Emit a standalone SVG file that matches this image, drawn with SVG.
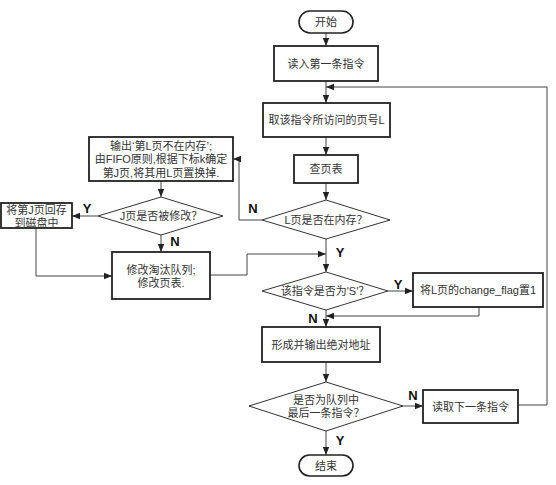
<svg xmlns="http://www.w3.org/2000/svg" width="556" height="485" viewBox="0 0 556 485">
<style>
.box{fill:#fff;stroke:#222;stroke-width:1.8}
.term{fill:#fff;stroke:#222;stroke-width:1.6}
.dia{fill:#fff;stroke:#333;stroke-width:1}
.t{font-family:"Liberation Sans","Noto Sans CJK SC",sans-serif;font-size:11px;fill:#333;text-anchor:middle;dominant-baseline:central}
.lbl{font-family:"Liberation Sans",Arial,sans-serif;font-size:13px;font-weight:bold;fill:#111;text-anchor:middle;dominant-baseline:central}
.c{fill:none;stroke:#444;stroke-width:1;marker-end:url(#ah)}
</style>
<defs>
<marker id="ah" markerUnits="userSpaceOnUse" markerWidth="8" markerHeight="8" viewBox="0 0 8 8" refX="8" refY="4" orient="auto">
<path d="M0,0.8 L8,4 L0,7.2 Z" fill="#222"/>
</marker>
</defs>
<rect width="556" height="485" fill="#fff"/>
<g id="connectors">
<path class="c" d="M326,33 V46"/>
<path class="c" d="M326,81 V103"/>
<path class="c" d="M326,137 V155"/>
<path class="c" d="M326,183 V200"/>
<path class="c" d="M262,220 H239 V159 H233"/>
<path class="c" d="M161,181 V197"/>
<path class="c" d="M98,216 H72"/>
<path class="c" d="M36,228 V276 H112"/>
<path class="c" d="M161,235 V252"/>
<path class="c" d="M210,275 H247 V254 H326"/>
<path class="c" d="M326,239 V272"/>
<path class="c" d="M388,291 H413"/>
<path class="c" d="M479,307 V316 H326"/>
<path class="c" d="M326,310 V327"/>
<path class="c" d="M326,362 V382"/>
<path class="c" d="M403,406 H423"/>
<path class="c" d="M518,405 H547 V87 H326"/>
<path class="c" d="M326,431 V455"/>
<text class="lbl" x="253" y="208">N</text>
<text class="lbl" x="87" y="208">Y</text>
<text class="lbl" x="175" y="241">N</text>
<text class="lbl" x="340" y="252">Y</text>
<text class="lbl" x="398" y="284">Y</text>
<text class="lbl" x="313" y="318">N</text>
<text class="lbl" x="413" y="395">N</text>
<text class="lbl" x="340" y="440">Y</text>
</g>
<g id="start">
<rect class="term" x="299" y="11" width="54" height="22" rx="11"/>
<text class="t" x="326" y="22">开始</text>
</g>
<g id="read-first">
<rect class="box" x="274" y="46" width="104" height="35"/>
<text class="t" x="326" y="63.5">读入第一条指令</text>
</g>
<g id="get-page">
<rect class="box" x="263" y="103" width="127" height="34"/>
<text class="t" x="326.5" y="120">取该指令所访问的页号L</text>
</g>
<g id="lookup">
<rect class="box" x="294" y="155" width="64" height="28"/>
<text class="t" x="326" y="169">查页表</text>
</g>
<g id="in-memory">
<polygon class="dia" points="326,200 390,220 326,239 262,220"/>
<text class="t" x="326" y="220">L页是否在内存？</text>
</g>
<g id="fifo">
<rect class="box" x="89" y="137" width="144" height="44"/>
<text class="t" x="161" y="145.5">输出‘第L页不在内存’;</text>
<text class="t" x="161" y="159">由FIFO原则,根据下标k确定</text>
<text class="t" x="161" y="172.5">第J页,将其用L页置换掉.</text>
</g>
<g id="modified">
<polygon class="dia" points="161,197 223,216 161,235 98,216"/>
<text class="t" x="161" y="216">J页是否被修改？</text>
</g>
<g id="write-back">
<rect class="box" x="1" y="203" width="71" height="25"/>
<text class="t" x="36.5" y="210">将第J页回存</text>
<text class="t" x="36.5" y="222.5">到磁盘中</text>
</g>
<g id="update">
<rect class="box" x="112" y="252" width="98" height="47"/>
<text class="t" x="161" y="270">修改淘汰队列;</text>
<text class="t" x="161" y="283">修改页表.</text>
</g>
<g id="is-s">
<polygon class="dia" points="326,272 388,291 326,310 262,291"/>
<text class="t" x="325" y="291">该指令是否为'S'？</text>
</g>
<g id="set-flag">
<rect class="box" x="413" y="273" width="130" height="34"/>
<text class="t" x="478" y="290">将L页的change_flag置1</text>
</g>
<g id="address">
<rect class="box" x="262" y="327" width="118" height="35"/>
<text class="t" x="321" y="344.5">形成并输出绝对地址</text>
</g>
<g id="last">
<polygon class="dia" points="326,382 403,406 326,431 249,406"/>
<text class="t" x="326" y="400">是否为队列中</text>
<text class="t" x="326" y="413">最后一条指令？</text>
</g>
<g id="read-next">
<rect class="box" x="423" y="390" width="95" height="33"/>
<text class="t" x="470.5" y="406.5">读取下一条指令</text>
</g>
<g id="end">
<rect class="term" x="299" y="455" width="54" height="21" rx="10.5"/>
<text class="t" x="326" y="465.5">结束</text>
</g>
</svg>
